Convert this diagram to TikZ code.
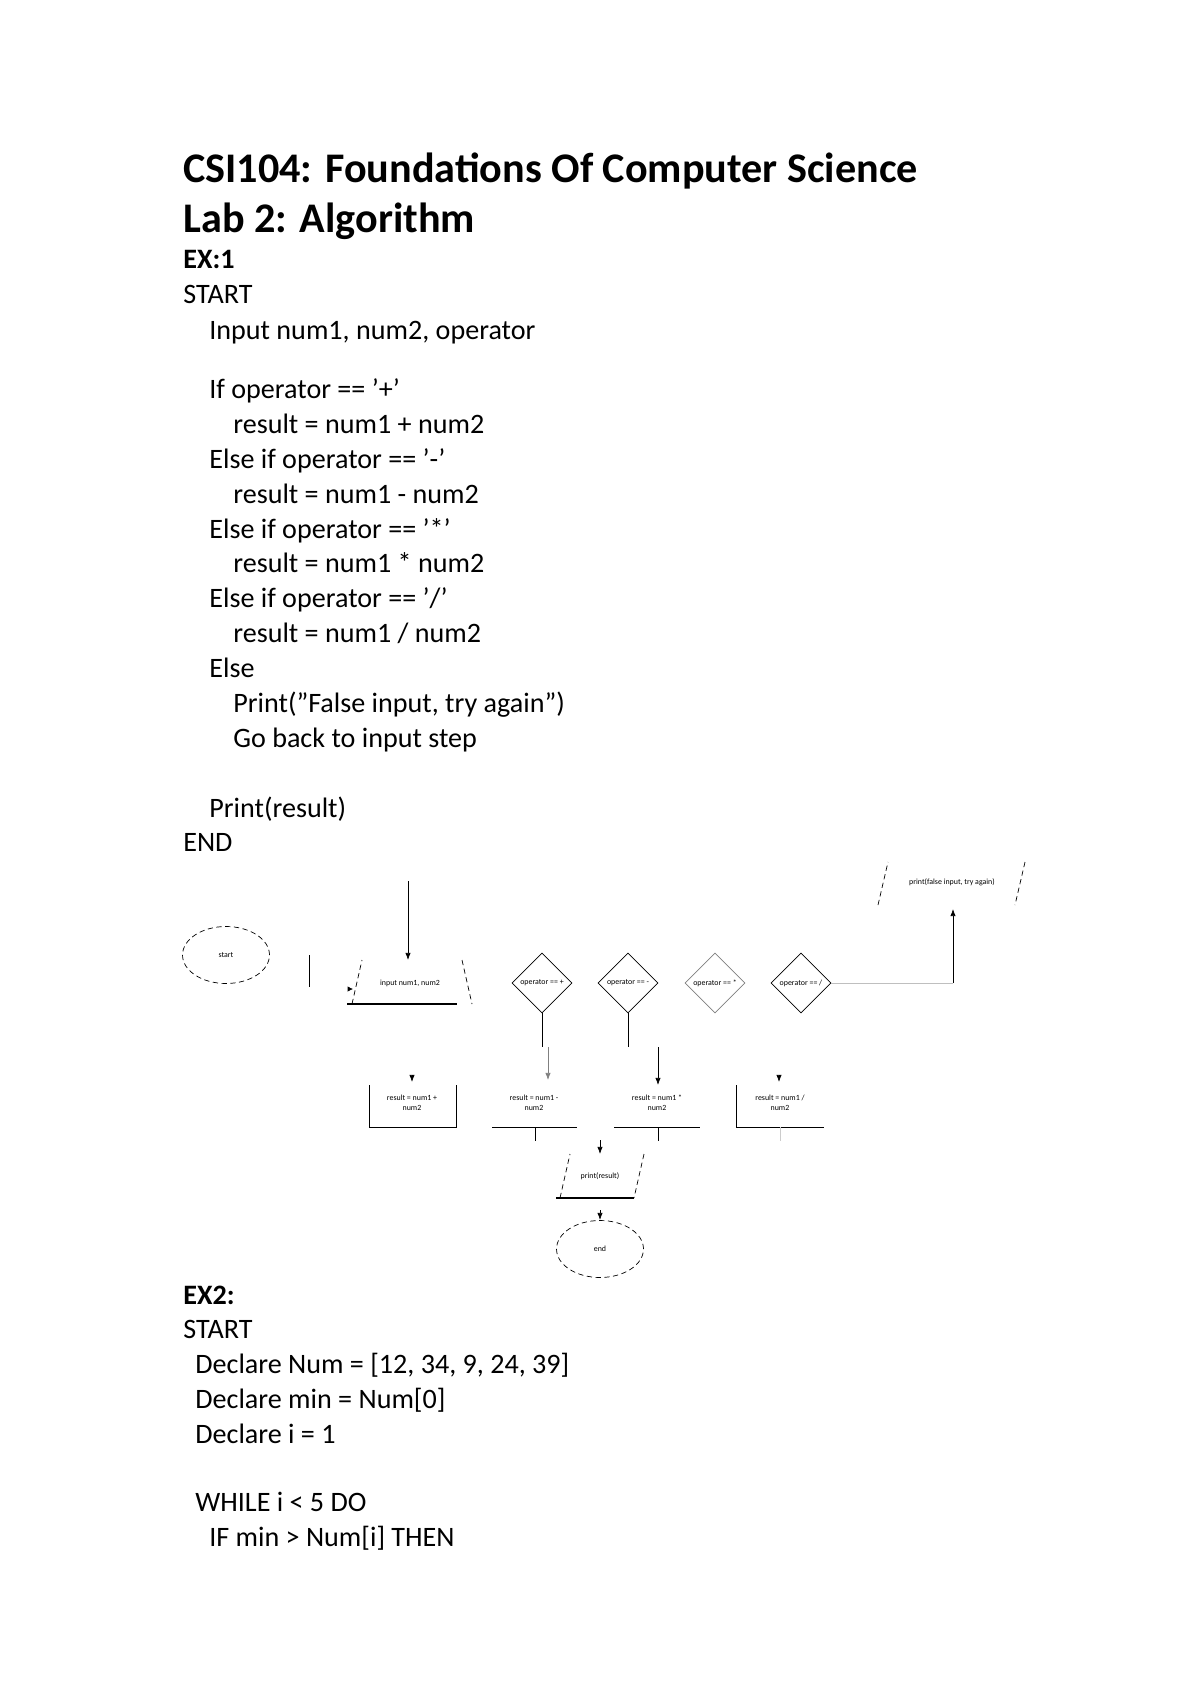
\documentclass[tikz,border=0pt]{standalone}
\usepackage{fontspec}
\setmainfont{Carlito}
\usetikzlibrary{shapes.geometric,arrows.meta}
\begin{document}
\begin{tikzpicture}[x=0.02cm,y=-0.02cm,
 body/.style={anchor=base west,inner sep=0pt,font=\fontsize{16}{19}\selectfont},
 ttl/.style={anchor=base west,inner sep=0pt,font=\fontsize{24}{29}\selectfont\bfseries},
 tiny/.style={font=\fontsize{4.5}{5.5}\selectfont,align=center,inner sep=0pt},
 term/.style={ellipse,draw,densely dashed,minimum width=1.74cm,minimum height=1.14cm,inner sep=0pt,font=\fontsize{4.5}{5.5}\selectfont},
 dec/.style={diamond,draw,minimum width=1.2cm,minimum height=1.2cm,inner sep=0pt,font=\fontsize{4.5}{5.5}\selectfont},
 ar/.style={-{Latex[length=4pt,width=3pt]},thin},
 line/.style={thin}]
\useasboundingbox (0,0) rectangle (1200,1696);
\fill[white] (0,0) rectangle (1200,1696);
\node[ttl] at (183,183) {CSI104: Foundations Of Computer Science};
\node[ttl] at (183,233) {Lab 2: Algorithm};
\node[body,font=\fontsize{16}{19}\selectfont\bfseries] at (183,269) {EX:1};
\node[body] at (183,304) {START};
\node[body] at (209,339) {Input num1, num2, operator};
\node[body] at (209,398) {If operator == '+'};
\node[body] at (233,433) {result = num1 + num2};
\node[body] at (209,468) {Else if operator == '-'};
\node[body] at (233,503) {result = num1 - num2};
\node[body] at (209,538) {Else if operator == '*'};
\node[body] at (233,572) {result = num1 * num2};
\node[body] at (209,607) {Else if operator == '/'};
\node[body] at (233,642) {result = num1 / num2};
\node[body] at (209,677) {Else};
\node[body] at (233,712) {Print("False input, try again")};
\node[body] at (233,747) {Go back to input step};
\node[body] at (209,817) {Print(result)};
\node[body] at (183,851) {END};
% flowchart
\node[term] (start) at (226,955) {start};
\draw[line] (309,955) -- (309,987);
\coordinate (topin) at (408,881);
\node[tiny] (inp) at (410,983) {input num1, num2};
\draw[densely dashed] (352,1004) -- (362,960) (462,960) -- (472,1004);
\draw[thick] (347,1004) -- (457,1004);
\draw[ar] (topin) -- (408,960);
\draw[-{Latex[length=3pt,width=3pt]}] (348,989) -- (353,989);
\node[dec] (d1) at (542,983) {operator == +};
\node[dec] (d2) at (628,983) {operator == -};
\node[dec,draw=gray] (d3) at (715,983) {operator == *};
\node[dec] (d4) at (801,983) {operator == /};
\draw[line] (d1.south) -- (542,1047);
\draw[line] (d2.south) -- (628,1047);
\coordinate (c4) at (953,983);
\node[tiny] (pf) at (952,882) {print(false input, try again)};
\draw[densely dashed] (878,905) -- (888,862) (1025,862) -- (1015,905);
\draw[gray!50] (d4.east) -- (c4);
\draw[ar] (c4) -- (953,909);
\draw[ar,gray] (548,1047) -- (548,1080);
\draw[ar] (658,1047) -- (658,1085);
\draw[ar] (412,1076) -- (412,1082);
\draw[ar] (779,1076) -- (779,1082);
\node[tiny] (r1) at (412,1103) {result = num1 +\\num2};
\draw[line] (369,1085) -- (369,1127) -- (456,1127) -- (456,1085);
\node[tiny] (r2) at (534,1103) {result = num1 -\\num2};
\draw[line] (492,1127) -- (577,1127) (535,1127) -- (535,1141);
\node[tiny] (r3) at (657,1103) {result = num1 *\\num2};
\draw[line] (614,1127) -- (700,1127) (658,1127) -- (658,1141);
\node[tiny] (r4) at (780,1103) {result = num1 /\\num2};
\draw[line] (736,1085) -- (736,1127) -- (824,1127);
\draw[gray!40] (780,1127) -- (780,1141);
\draw[ar] (600,1140) -- (600,1154);
\node[tiny] (pr) at (600,1176) {print(result)};
\draw[densely dashed] (560,1198) -- (570,1154) (644,1154) -- (634,1198);
\draw[thick] (556,1198) -- (634,1198);
\draw[ar] (600,1210) -- (600,1220);
\node[term] (end) at (600,1249) {end};
% EX2
\node[body,font=\fontsize{16}{19}\selectfont\bfseries] at (183,1304) {EX2:};
\node[body] at (183,1338) {START};
\node[body] at (195,1373) {Declare Num = [12, 34, 9, 24, 39]};
\node[body] at (195,1408) {Declare min = Num[0]};
\node[body] at (195,1443) {Declare i = 1};
\node[body] at (195,1511) {WHILE i < 5 DO};
\node[body] at (209,1546) {IF min > Num[i] THEN};
\end{tikzpicture}
\end{document}
